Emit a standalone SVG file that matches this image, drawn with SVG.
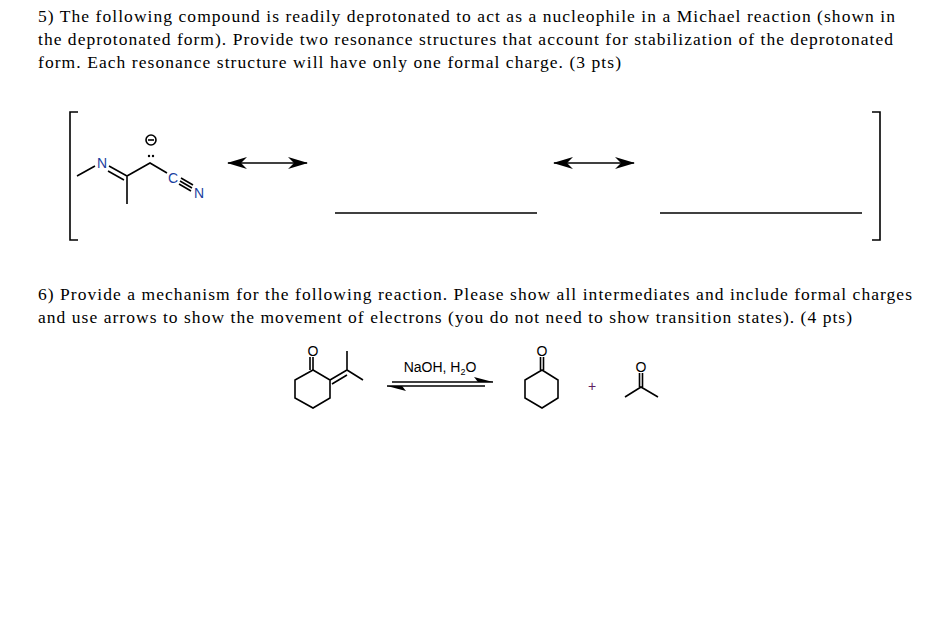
<svg xmlns="http://www.w3.org/2000/svg" width="949" height="627" viewBox="0 0 949 627">
<style>
.q{font-family:'Liberation Serif','Times New Roman','DejaVu Serif',serif;font-size:17.5px;fill:#000}
.a{font-family:'Liberation Sans',Arial,sans-serif;font-size:14px}
.b{stroke:#000;stroke-width:1.6;fill:none}
</style>
<defs>
<marker id="ah" viewBox="0 0 20 12" refX="19" refY="6" markerWidth="20" markerHeight="12" markerUnits="userSpaceOnUse" orient="auto-start-reverse"><path d="M0,0 L20,6 L0,12 L6,6z" fill="#000"/></marker>
</defs>
<rect width="949" height="627" fill="#fff"/>
<g id="text5">
<text class="q" x="38" y="22" textLength="857" lengthAdjust="spacing">5) The following compound is readily deprotonated to act as a nucleophile in a Michael reaction (shown in</text>
<text class="q" x="38" y="45" textLength="855" lengthAdjust="spacing">the deprotonated form). Provide two resonance structures that account for stabilization of the deprotonated</text>
<text class="q" x="38" y="68" textLength="583" lengthAdjust="spacing">form. Each resonance structure will have only one formal charge. (3 pts)</text>
</g>
<g id="text6">
<text class="q" x="38" y="300" textLength="874" lengthAdjust="spacing">6) Provide a mechanism for the following reaction. Please show all intermediates and include formal charges</text>
<text class="q" x="38" y="323" textLength="814" lengthAdjust="spacing">and use arrows to show the movement of electrons (you do not need to show transition states). (4 pts)</text>
</g>
<g id="brackets" class="b">
<path d="M78,112 H70 V240 H78"/>
<path d="M872,112 H880 V240 H872"/>
</g>
<g id="molecule1">
<path class="b" d="M77,176 L95,166 M109,166 L127,176 L127,204 M127,176 L150,163 L167,173"/>
<path class="b" d="M108,171 L124,180"/>
<path class="b" d="M180,181 L192,188 M181,178 L193,185 M179,184 L191,191" stroke-width="1.3"/>
<text class="a" x="102" y="168" text-anchor="middle" fill="#1a3fa0">N</text>
<text class="a" x="173" y="183" text-anchor="middle" fill="#1a3fa0">C</text>
<text class="a" x="199" y="198" text-anchor="middle" fill="#1a3fa0">N</text>
<circle cx="149" cy="156" r="1.2" fill="#000"/><circle cx="153" cy="156" r="1.2" fill="#000"/>
<circle cx="151" cy="140" r="5" class="b" stroke-width="1.3"/>
<path class="b" d="M148,140 H154" stroke-width="1.3"/>
</g>
<g id="connectors">
<line x1="228" y1="163" x2="307" y2="163" class="b" marker-start="url(#ah)" marker-end="url(#ah)"/>
<line x1="554" y1="163" x2="634" y2="163" class="b" marker-start="url(#ah)" marker-end="url(#ah)"/>
<path class="b" d="M392,382 H493"/><path d="M493,382 L474,377 L478,382z" fill="#000"/>
<path class="b" d="M387,386 H485"/><path d="M387,386 L406,391 L402,386z" fill="#000"/>
</g>
<g id="blanks" class="b">
<line x1="335" y1="213" x2="537" y2="213"/>
<line x1="660" y1="213" x2="862" y2="213"/>
</g>
<g id="reactant" class="b" stroke-width="1.3">
<path d="M313,370 L295,380 L295,398 L313,408 L330,398 L330,380 Z"/>
<path d="M313,370 V357 M310,370 V357"/>
<path d="M330,380 L347,370 L347,351 M347,370 L363,380 M332,384 L347,375"/>
<text class="a" x="313" y="356" text-anchor="middle" fill="#000" stroke="none" font-size="11">O</text>
</g>
<text class="a" x="440" y="372" text-anchor="middle" font-size="12">NaOH, H<tspan font-size="9" dy="3">2</tspan><tspan dy="-3">O</tspan></text>
<g id="product1" class="b" stroke-width="1.3">
<path d="M542,370 L525,380 L525,398 L542,408 L558,398 L558,380 Z"/>
<path d="M543.5,370 V357 M540.5,370 V357"/>
<text class="a" x="542" y="356" text-anchor="middle" fill="#000" stroke="none" font-size="11">O</text>
</g>
<text class="a" x="592" y="391" text-anchor="middle" font-size="11" fill="#602060">+</text>
<g id="product2" class="b" stroke-width="1.3">
<path d="M625,397 L641,387 L658,397 M642.5,387 V373 M639.5,387 V373"/>
<text class="a" x="641" y="372" text-anchor="middle" fill="#000" stroke="none" font-size="11">O</text>
</g>
</svg>
